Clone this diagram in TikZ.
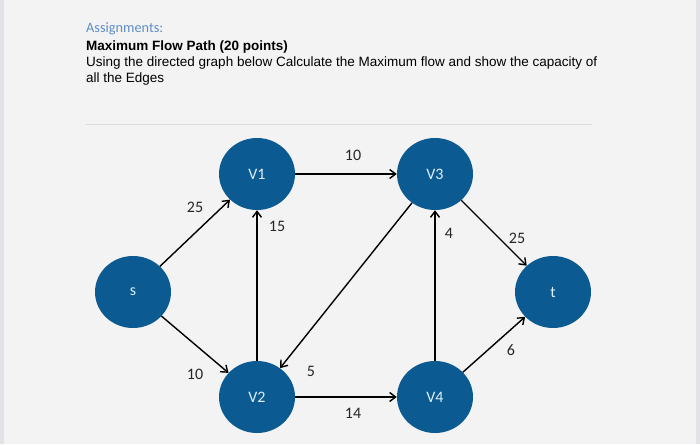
\documentclass[tikz,border=0pt]{standalone}
\usepackage{fontspec}
\setmainfont{Liberation Sans}
\newfontfamily\calfont{Carlito}
\usetikzlibrary{arrows.meta,shapes.geometric}
\definecolor{bg}{HTML}{F3F3F3}
\definecolor{edgebar}{HTML}{E2E2E7}
\definecolor{nodeblue}{HTML}{0B5A92}
\definecolor{nodetext}{HTML}{DDF0FB}
\definecolor{headblue}{HTML}{5E8FC8}
\definecolor{rulegray}{HTML}{DCDCDC}
\definecolor{lbl}{HTML}{262626}
\tikzset{
  vtx/.style={ellipse, fill=nodeblue, draw=none, minimum width=76pt, minimum height=72pt, inner sep=0pt, text=nodetext, font=\calfont\fontsize{16}{17}\selectfont},
  arc/.style={draw=black, line width=1.4pt, -{Straight Barb[length=6pt,width=9pt,line width=1.4pt]}},
  elabel/.style={text=lbl, font=\calfont\fontsize{16}{17}\selectfont, inner sep=0pt},
  hdr/.style={anchor=base west, inner sep=0pt}
}
\begin{document}
\begin{tikzpicture}[x=1pt,y=-1pt]
\useasboundingbox (0,0) rectangle (700,444);
\fill[bg] (0,0) rectangle (700,444);
\fill[edgebar] (0,0) rectangle (4,444);
\fill[edgebar] (696,0) rectangle (700,444);
% header
\node[hdr, text=headblue, font=\calfont\fontsize{14.3}{16}\selectfont] (h1) at (86,33) {Assignments:};
\node[hdr, font=\bfseries\fontsize{13.5}{15}\selectfont] (h2) at (86,50.5) {Maximum Flow Path (20 points)};
\node[hdr, font=\fontsize{13.5}{15}\selectfont] (h3) at (86,66.5) {Using the directed graph below Calculate the Maximum flow and show the capacity of};
\node[hdr, font=\fontsize{13.5}{15}\selectfont] (h4) at (86,82.5) {all the Edges};
\coordinate (r1) at (86,124);
\coordinate (r2) at (592,124);
\draw[rulegray, line width=0.8pt] (r1) -- (r2);
% nodes
\node[vtx] (s) at (133,292) {s};
\node[vtx] (v1) at (257,174) {V1};
\node[vtx] (v2) at (257,397) {V2};
\node[vtx] (v3) at (435,174) {V3};
\node[vtx] (v4) at (435,397) {V4};
\node[vtx] (t) at (553,292) {t};
% edges
\draw[arc] (s) -- (v1);
\draw[arc] (s) -- (v2);
\draw[arc] (v1) -- (v3);
\draw[arc] (v2) -- (v1);
\draw[arc] (v3) -- (v2);
\draw[arc] (v2) -- (v4);
\draw[arc] (v4) -- (v3);
\draw[arc] (v3) -- (t);
\draw[arc] (v4) -- (t);
% labels
\node[elabel] (l1) at (353,155) {10};
\node[elabel] (l2) at (195,207) {25};
\node[elabel] (l3) at (277,226) {15};
\node[elabel] (l4) at (195,374) {10};
\node[elabel] (l5) at (311,371) {5};
\node[elabel] (l6) at (353,413) {14};
\node[elabel] (l7) at (449,233) {4};
\node[elabel] (l8) at (517,238) {25};
\node[elabel] (l9) at (511,350) {6};
\end{tikzpicture}
\end{document}
